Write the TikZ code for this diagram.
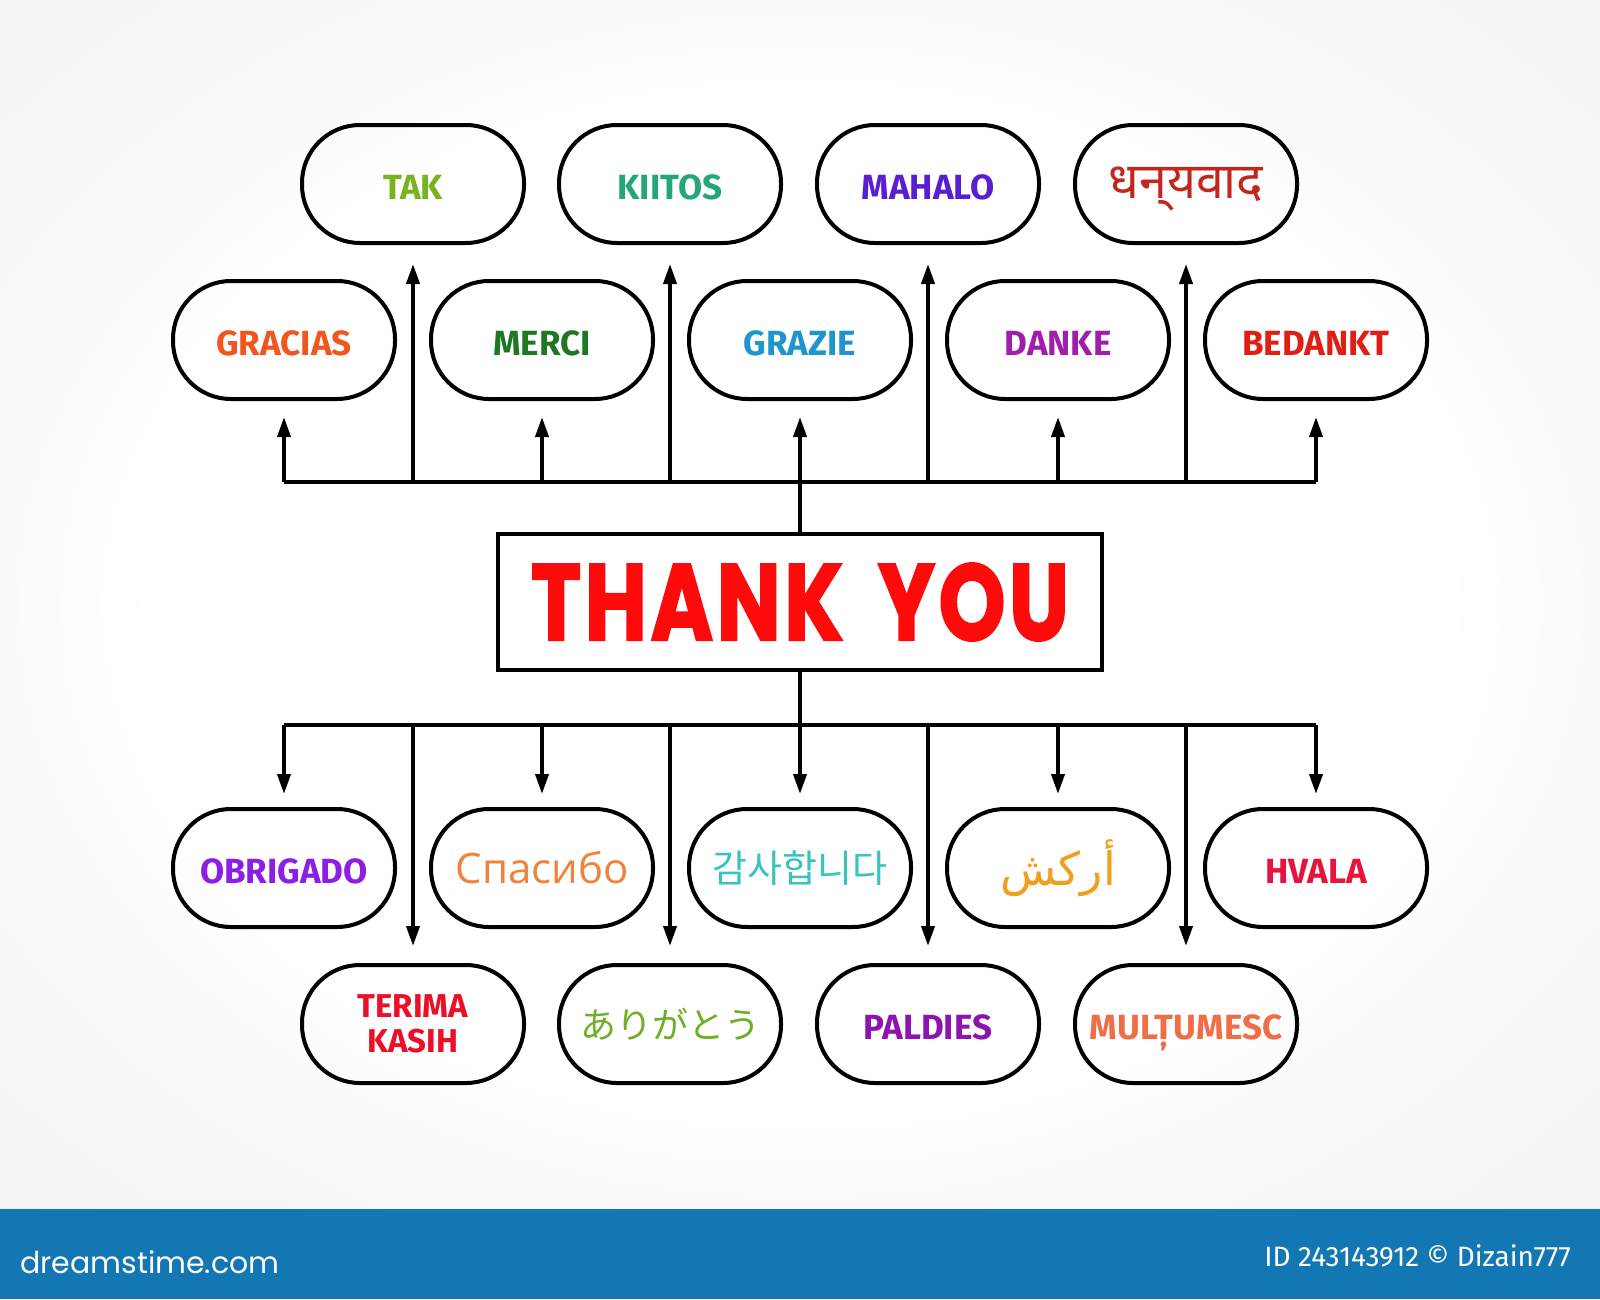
\documentclass[tikz,border=0pt]{standalone}
\usepackage{fontspec}
\usepackage{graphicx}
\usetikzlibrary{arrows.meta}
\setmainfont{Fira Sans}
\newfontfamily\labfont{Fira Sans}
\newfontfamily\thxfont{Poppins}[LetterSpace=4,WordSpace=1.6,BoldFeatures={FakeBold=2}]
\newfontfamily\dsfont{Poppins}
\newfontfamily\rufont{Open Sans}
\newfontfamily\hifont[Script=Devanagari]{Noto Sans}
\newfontfamily\kofont{Noto Sans CJK KR}
\newfontfamily\jafont{Noto Sans CJK JP}
\newfontfamily\arfont[Script=Arabic]{DejaVu Sans}
\TeXXeTstate=1
\definecolor{cTak}{HTML}{78B41E}
\definecolor{cKiitos}{HTML}{23A77A}
\definecolor{cMahalo}{HTML}{5A1ED2}
\definecolor{cHindi}{HTML}{C3261E}
\definecolor{cGracias}{HTML}{F0561E}
\definecolor{cMerci}{HTML}{1E7823}
\definecolor{cGrazie}{HTML}{1E96CD}
\definecolor{cDanke}{HTML}{A01EAA}
\definecolor{cBedankt}{HTML}{E11E14}
\definecolor{cObrigado}{HTML}{8C1EE6}
\definecolor{cSpasibo}{HTML}{F0823C}
\definecolor{cKorean}{HTML}{37C3BE}
\definecolor{cArabic}{HTML}{F0A01E}
\definecolor{cHvala}{HTML}{E6143C}
\definecolor{cTerima}{HTML}{EB0F28}
\definecolor{cJapan}{HTML}{6EAF28}
\definecolor{cPaldies}{HTML}{8C14AF}
\definecolor{cMultu}{HTML}{F06E46}
\definecolor{cThank}{HTML}{FF0A0A}
\definecolor{footblue}{HTML}{1277B2}
\pgfdeclareradialshading{bgshade}{\pgfpoint{0bp}{0bp}}{color(0bp)=(white); color(20bp)=(white); color(36bp)=(black!5); color(50bp)=(black!11); color(72bp)=(black!14)}
\begin{document}
\begin{tikzpicture}[x=1pt,y=-1pt,
  oval/.style={draw=black, line width=4pt, rounded corners=58pt, minimum width=222pt, minimum height=118pt, inner sep=0pt, align=center},
  lab/.style={font=\labfont\bfseries\fontsize{35}{36}\selectfont, text height=30pt, text depth=0pt},
  link/.style={line width=3.8pt},
  arr/.style={line width=3.8pt, -{Triangle[length=20pt,width=13pt]}}]
\useasboundingbox (0,0) rectangle (1600,1299);
\shade[shading=bgshade] (0,0) rectangle (1600,1209);
\fill[footblue] (0,1209) rectangle (1600,1299);
% top rows
\node[oval, lab, text=cTak] (tak) at (413,184) {TAK};
\node[oval, lab, text=cKiitos] (kiitos) at (670,184) {KIITOS};
\node[oval, lab, text=cMahalo] (mahalo) at (928,184) {MAHALO};
\node[oval, text=cHindi, font=\hifont\fontsize{50}{50}\selectfont, text height=40pt, text depth=12pt] (hindi) at (1186,184) {धन्‌यवाद};
\node[oval, lab, text=cGracias] (gracias) at (284,340) {GRACIAS};
\node[oval, lab, text=cMerci] (merci) at (542,340) {MERCI};
\node[oval, lab, text=cGrazie] (grazie) at (800,340) {GRAZIE};
\node[oval, lab, text=cDanke] (danke) at (1058,340) {DANKE};
\node[oval, lab, text=cBedankt] (bedankt) at (1316,340) {BEDANKT};
% centre
\node[draw=black, line width=4pt, minimum width=604pt, minimum height=136pt, fill=white, inner sep=0pt] (ty) at (800,602) {\resizebox{538pt}{77pt}{\color{cThank}\thxfont\bfseries THANK YOU}};
% bottom rows
\node[oval, lab, text=cObrigado] (obrigado) at (284,868) {OBRIGADO};
\node[oval, text=cSpasibo, font=\rufont\fontsize{42}{42}\selectfont] (spasibo) at (542,868) {Спасибо};
\node[oval, text=cKorean, font=\kofont\fontsize{38}{38}\selectfont] (korean) at (800,868) {감사합니다};
\node[oval, text=cArabic, font=\arfont\fontsize{46}{46}\selectfont] (arabic) at (1058,868) {\beginR أركش\endR};
\node[oval, lab, text=cHvala] (hvala) at (1316,868) {HVALA};
\node[oval, text=cTerima, font=\labfont\bfseries\fontsize{33}{35}\selectfont] (terima) at (413,1024) {TERIMA\\KASIH};
\node[oval, text=cJapan, font=\jafont\fontsize{36}{36}\selectfont] (japan) at (670,1024) {ありがとう};
\node[oval, lab, text=cPaldies] (paldies) at (928,1024) {PALDIES};
\node[oval, lab, text=cMultu] (multu) at (1186,1024) {MULȚUMESC};
% buses
\coordinate (tbus) at (800,482);
\coordinate (bbus) at (800,725);
\draw[link] (ty.north) -- (tbus);
\draw[link] (gracias |- tbus) -- (bedankt |- tbus);
\draw[link] (ty.south) -- (bbus);
\draw[link] (obrigado |- bbus) -- (hvala |- bbus);
\foreach \n in {gracias,merci,grazie,danke,bedankt}{
  \draw[arr, shorten >=16pt] (\n |- tbus) -- (\n.south);
}
\foreach \n in {tak,kiitos,mahalo,hindi}{
  \draw[arr, shorten >=19pt] (\n |- tbus) -- (\n.south);
}
\foreach \n in {obrigado,spasibo,korean,arabic,hvala}{
  \draw[arr, shorten >=13pt] (\n |- bbus) -- (\n.north);
}
\foreach \n in {terima,japan,paldies,multu}{
  \draw[arr, shorten >=17pt] (\n |- bbus) -- (\n.north);
}
% footer
\node[anchor=west, text=white, inner sep=0pt, font=\dsfont\fontsize{30}{30}\selectfont] (ds) at (20,1262) {dreamstime.com};
\node[anchor=east, text=white, inner sep=0pt, font=\labfont\fontsize{28}{28}\selectfont] (id) at (1571,1256) {ID 243143912 © Dizain777};
\end{tikzpicture}
\end{document}
